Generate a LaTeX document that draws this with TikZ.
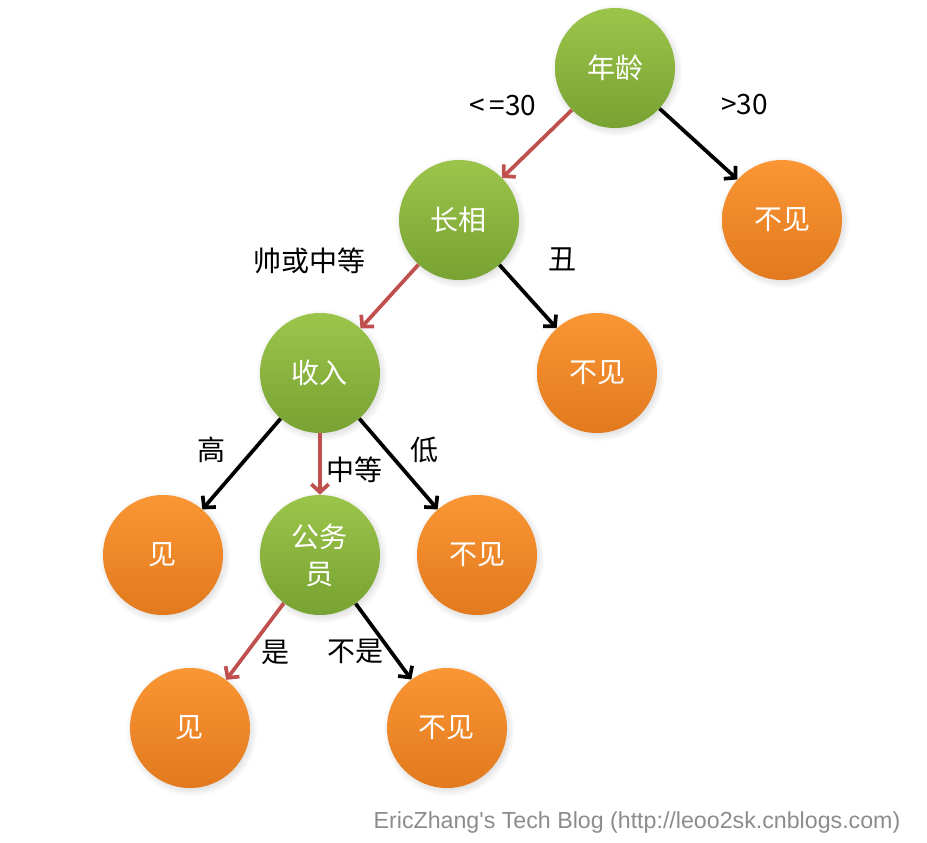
\documentclass[tikz,border=0pt]{standalone}
\usepackage{fontspec}
\setmainfont{Noto Sans CJK SC}
\newfontfamily\blogfont{Liberation Sans}
\usetikzlibrary{shadows,arrows.meta,trees}
\definecolor{mygreen1}{HTML}{9BC54A}
\definecolor{mygreen2}{HTML}{78A232}
\definecolor{myorange1}{HTML}{FA9634}
\definecolor{myorange2}{HTML}{E2791E}
\definecolor{myred}{HTML}{C0504D}
\definecolor{mygray}{HTML}{8C8C8C}

\begin{document}
\begin{tikzpicture}[font=\fontsize{21}{24}\selectfont,
                    ball/.style={circle,minimum size=90pt,inner sep=0pt,text=white,align=center,
                                 circular drop shadow={shadow xshift=1pt,shadow yshift=-1.5pt,opacity=0.25}},
                    decision/.style={ball,top color=mygreen1,bottom color=mygreen2},
                    leaf/.style={ball,top color=myorange1,bottom color=myorange2},
                    lbl/.style={inner sep=1pt,text=black},
                    chosen/.style={edge from parent/.append style={draw=myred}},
                    other/.style={edge from parent/.append style={draw=black}},
                    edge from parent/.style={draw,line width=2.8pt,-{Straight Barb[length=6pt,width=13pt]}},
                    level 1/.style={grow via three points={one child at (0,-114pt)
                                    and two children at (-117pt,-114pt) and (125.25pt,-114pt)}},
                    level 2/.style={grow via three points={one child at (0,-114.75pt)
                                    and two children at (-104.25pt,-114.75pt) and (103.5pt,-114.75pt)}},
                    level 3/.style={grow via three points={one child at (0,-136.5pt)
                                    and two children at (-58.875pt,-136.5pt) and (58.875pt,-136.5pt)}},
                    level 4/.style={grow via three points={one child at (0,-129.75pt)
                                    and two children at (-97.5pt,-129.75pt) and (95.25pt,-129.75pt)}}]
\useasboundingbox (-461.25pt,51pt) rectangle (234pt,-580.5pt);
\node[decision] (age) {年龄}
    child [chosen] { node[decision] (looks) {长相}
        child [chosen] { node[decision] (income) {收入}
            child [other] { node[leaf] (meet1) {见}
                edge from parent node[lbl,xshift=-22.5pt,yshift=10.5pt] {高}
            }
            child [chosen] { node[decision] (servant) {公务\\[3.75pt]员}
                child [chosen] { node[leaf] (meet2) {见}
                    edge from parent node[lbl,xshift=15.75pt,yshift=-8.25pt] {是}
                }
                child [other] { node[leaf] (nomeet4) {不见}
                    edge from parent node[lbl,xshift=-21pt,yshift=-7.5pt] {不是}
                }
                edge from parent node[lbl,xshift=26.25pt,yshift=-4.5pt] {中等}
            }
            child [other] { node[leaf] (nomeet3) {不见}
                edge from parent node[lbl,xshift=19.5pt,yshift=10.5pt] {低}
            }
            edge from parent node[lbl,xshift=-60pt,yshift=27pt] {帅或中等}
        }
        child [other] { node[leaf] (nomeet2) {不见}
            edge from parent node[lbl,xshift=25.5pt,yshift=27.75pt] {丑}
        }
        edge from parent node[lbl,xshift=-25.5pt,yshift=28.5pt] {<\,=30}
    }
    child [other] { node[leaf] (nomeet1) {不见}
        edge from parent node[lbl,xshift=34.5pt,yshift=29.25pt] {>30}
    };
\node[lbl,text=mygray,font=\blogfont\fontsize{17.4}{20}\selectfont] (blog) at (16.5pt,-565.5pt)
    {EricZhang's Tech Blog (http://leoo2sk.cnblogs.com)};
\end{tikzpicture}
\end{document}
